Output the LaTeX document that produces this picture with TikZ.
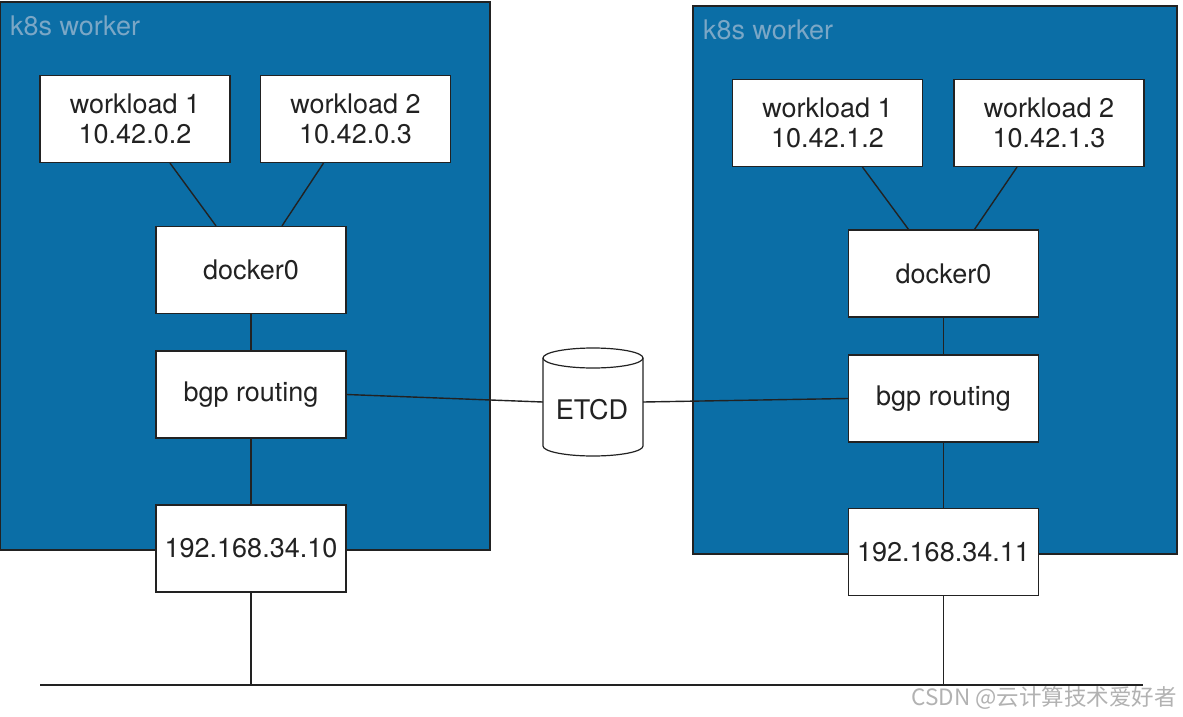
\documentclass[tikz,border=0pt]{standalone}
\usepackage{fontspec}
\setmainfont{TeX Gyre Heros}
\newfontfamily\cjk{Noto Sans CJK SC}
\definecolor{workerblue}{HTML}{0B6EA6}
\definecolor{titleblue}{HTML}{7BA7C6}
\definecolor{ink}{HTML}{222222}
\begin{document}
\begin{tikzpicture}[x=1pt,y=-1pt,
  worker/.style={draw=ink, line width=1.2pt, fill=workerblue},
  box/.style={draw=ink, line width=1.2pt, fill=white, minimum width=190pt, minimum height=87pt,
    align=center, font=\fontsize{27}{30}\selectfont, text=ink, inner sep=0pt},
  title/.style={anchor=base west, text=titleblue, font=\fontsize{27}{30}\selectfont, inner sep=0pt},
  link/.style={draw=ink, line width=1.4pt},
  dbline/.style={draw=ink, line width=1.2pt}]
\useasboundingbox (0,0) rectangle (1183,717);
\fill[white] (0,0) rectangle (1183,717);

% workers
\path[worker] (0,2) rectangle (490,550);
\path[worker] (693,6) rectangle (1177,554);
\node[title] (t1) at (10,36) {k8s worker};
\node[title] (t2) at (703,40) {k8s worker};

% bus
\coordinate (busL) at (40,685);
\coordinate (busR) at (1143,685);
\coordinate (tapL) at (251,685);
\coordinate (tapR) at (943.5,685);
\draw[link] (busL) -- (busR);

% left node boxes
\node[box] (Lw1) at (135,119) {workload 1\\10.42.0.2};
\node[box] (Lw2) at (355.5,119) {workload 2\\10.42.0.3};
\node[box] (Ld) at (251,270) {docker0};
\node[box] (Lb) at (251,394.5) {bgp routing};
\node[box] (Lip) at (251,548.5) {192.168.34.10};

% right node boxes
\node[box] (Rw1) at (827.5,123) {workload 1\\10.42.1.2};
\node[box] (Rw2) at (1049,123) {workload 2\\10.42.1.3};
\node[box] (Rd) at (943.5,273.5) {docker0};
\node[box] (Rb) at (943.5,398.5) {bgp routing};
\node[box] (Rip) at (943.5,552) {192.168.34.11};

% etcd cylinder
\node[minimum width=100pt, minimum height=108pt, inner sep=0pt] (etcd) at (593,402) {};
\path[dbline, fill=white] (543,358) -- (543,446)
  arc[start angle=180, end angle=0, x radius=50, y radius=10]
  -- (643,358)
  arc[start angle=0, end angle=-180, x radius=50, y radius=10] -- cycle;
\draw[dbline] (543,358) arc[start angle=180, end angle=0, x radius=50, y radius=10];
\node[text=ink, font=\fontsize{27}{30}\selectfont, inner sep=0pt] (etcdlabel) at (592,410) {ETCD};

% connectors
\draw[link] ([xshift=35pt]Lw1.south) -- ([xshift=-35pt]Ld.north);
\draw[link] ([xshift=-32pt]Lw2.south) -- ([xshift=31pt]Ld.north);
\draw[link] (Ld) -- (Lb);
\draw[link] (Lb) -- (Lip);
\draw[link] (Lip) -- (tapL);
\draw[link] ([xshift=35pt]Rw1.south) -- ([xshift=-35pt]Rd.north);
\draw[link] ([xshift=-32pt]Rw2.south) -- ([xshift=31pt]Rd.north);
\draw[link] (Rd) -- (Rb);
\draw[link] (Rb) -- (Rip);
\draw[link] (Rip) -- (tapR);
\draw[link] (Lb.east) -- (etcd.west);
\draw[link] (etcd.east) -- (Rb.west);

% watermark
\node[anchor=base east, text=black!30, font=\cjk\fontsize{22.5}{26}\selectfont, inner sep=0pt] (wm) at (1177,705) {CSDN @云计算技术爱好者};
\end{tikzpicture}
\end{document}
